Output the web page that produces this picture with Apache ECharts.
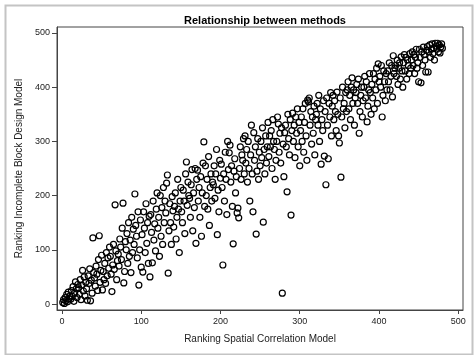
<!DOCTYPE html>
<html>
<head>
<meta charset="utf-8">
<script src="https://cdn.jsdelivr.net/npm/echarts@6/dist/echarts.min.js"></script>
<style>html,body{margin:0;padding:0;background:#fff}#c{width:474px;height:355px}</style>
</head>
<body>
<div id="c"></div>
<script>
const chartTitle = 'Relationship between methods';
const xAxisName = 'Ranking Spatial Correlation Model';
const yAxisName = 'Ranking Incomplete Block Design Model';
const xTicks = [0, 100, 200, 300, 400, 500];
const yTicks = [0, 100, 200, 300, 400, 500];
// [spatial correlation rank, incomplete block design rank]
const rankPairs = [
[1,3],[2,8],[3,1],[4,12],[5,6],[6,18],[7,4],[8,22],[9,10],[10,15],
[11,9],[12,25],[13,14],[14,32],[15,5],[16,20],[17,41],[18,28],[19,12],[20,36],
[21,30],[22,18],[23,45],[24,8],[25,35],[26,62],[27,24],[28,50],[29,15],[30,40],
[31,28],[32,7],[33,52],[34,38],[35,65],[36,6],[37,44],[38,20],[39,122],[40,58],
[41,48],[42,33],[43,70],[44,55],[45,25],[46,82],[47,126],[48,40],[49,62],[50,90],
[51,26],[52,60],[53,45],[54,75],[55,38],[56,95],[57,52],[58,85],[59,66],[60,105],
[61,88],[62,55],[63,23],[64,72],[65,110],[66,64],[67,183],[68,98],[69,45],[70,80],
[71,92],[72,70],[73,120],[74,105],[75,82],[76,140],[77,186],[78,39],[79,60],[80,115],
[81,100],[82,130],[83,75],[84,150],[85,88],[86,118],[87,58],[88,160],[89,95],[90,138],
[91,110],[92,203],[93,145],[94,125],[95,85],[96,170],[97,35],[98,100],[99,155],[100,68],
[101,128],[102,59],[103,170],[104,140],[105,95],[106,185],[107,112],[108,150],[109,75],[110,162],
[111,50],[112,165],[113,132],[114,76],[115,190],[116,118],[117,148],[118,98],[119,175],[120,205],
[121,140],[122,160],[123,88],[124,200],[125,125],[126,178],[127,110],[128,215],[129,150],[130,190],
[131,168],[132,223],[133,238],[134,57],[135,135],[136,185],[137,150],[138,110],[139,198],[140,172],
[141,142],[142,180],[143,205],[144,120],[145,160],[146,230],[147,175],[148,95],[149,190],[150,215],
[151,170],[152,150],[153,210],[154,190],[155,130],[156,240],[157,262],[158,182],[159,225],[160,200],
[161,195],[162,160],[163,220],[164,248],[165,135],[166,205],[167,178],[168,250],[169,112],[170,230],
[171,247],[172,190],[173,215],[174,160],[175,235],[176,125],[177,205],[178,260],[179,299],[180,180],
[181,255],[182,200],[183,230],[184,175],[185,272],[186,145],[187,215],[188,240],[189,190],[190,225],
[191,220],[192,255],[193,195],[194,240],[195,285],[196,128],[197,210],[198,170],[199,265],[200,232],
[201,258],[202,215],[203,72],[204,240],[205,190],[206,280],[207,230],[208,165],[209,300],[210,248],
[211,279],[212,293],[213,225],[214,255],[215,180],[216,111],[217,245],[218,268],[219,205],[220,235],
[221,168],[222,177],[223,159],[224,250],[225,290],[226,230],[227,275],[228,265],[229,305],[230,240],
[231,310],[232,260],[233,285],[234,225],[235,300],[236,250],[237,190],[238,275],[239,330],[240,240],
[241,170],[242,316],[243,265],[244,290],[245,129],[246,245],[247,305],[248,230],[249,280],[250,255],
[251,300],[252,270],[253,325],[254,151],[255,285],[256,240],[257,310],[258,260],[259,290],[260,335],
[261,272],[262,310],[263,290],[264,320],[265,250],[266,340],[267,300],[268,285],[269,230],[270,265],
[271,300],[272,345],[273,332],[274,280],[275,315],[276,260],[277,325],[278,20],[279,295],[280,235],
[281,316],[282,330],[283,290],[284,207],[285,350],[286,305],[287,275],[288,340],[289,164],[290,320],
[291,352],[292,300],[293,330],[294,270],[295,345],[296,315],[297,360],[298,290],[299,335],[300,255],
[301,320],[302,345],[303,300],[304,360],[305,280],[306,335],[307,370],[308,310],[309,265],[310,376],
[311,373],[312,380],[313,330],[314,355],[315,295],[316,345],[317,315],[318,365],[319,275],[320,340],
[321,350],[322,370],[323,330],[324,385],[325,300],[326,360],[327,258],[328,340],[329,320],[330,375],
[331,273],[332,355],[333,220],[334,380],[335,330],[336,268],[337,370],[338,345],[339,390],[340,310],
[341,365],[342,385],[343,340],[344,375],[345,355],[346,320],[347,391],[348,350],[349,310],[350,297],
[351,380],[352,234],[353,345],[354,400],[355,360],[356,370],[357,325],[358,390],[359,355],[360,395],
[361,410],[362,360],[363,385],[364,340],[365,400],[366,417],[367,370],[368,395],[369,330],[370,380],
[371,390],[372,405],[373,370],[374,415],[375,315],[376,355],[377,385],[378,400],[379,345],[380,375],
[381,400],[382,420],[383,380],[384,410],[385,336],[386,365],[387,395],[388,425],[389,390],[390,350],
[391,405],[392,380],[393,425],[394,360],[395,415],[396,395],[397,435],[398,370],[399,443],[400,410],
[401,420],[402,400],[403,440],[404,345],[405,385],[406,430],[407,410],[408,375],[409,425],[410,395],
[411,430],[412,410],[413,445],[414,395],[415,420],[416,440],[417,382],[418,458],[419,425],[420,435],
[421,440],[422,420],[423,450],[424,405],[425,435],[426,445],[427,415],[428,456],[429,430],[430,400],
[431,445],[432,460],[433,430],[434,455],[435,415],[436,450],[437,440],[438,425],[439,462],[440,435],
[441,450],[442,465],[443,440],[444,460],[445,425],[446,455],[447,470],[448,435],[449,445],[450,410],
[451,470],[452,455],[453,408],[454,465],[455,440],[456,474],[457,460],[458,450],[459,428],[460,468],
[461,475],[462,428],[463,465],[464,478],[465,455],[466,470],[467,480],[468,462],[469,472],[470,450],
[471,481],[472,476],[473,470],[474,481],[475,465],[476,478],[477,463],[478,474],[479,480],[480,472]
];

const chart = echarts.init(document.getElementById('c'), null, {renderer: 'canvas'});
const font = 'Liberation Sans, Arial, sans-serif';
chart.setOption({
  animation: false,
  backgroundColor: '#fff',
  graphic: [{
    type: 'rect', left: 3, top: 3, z: -1,
    shape: {width: 467, height: 349},
    style: {fill: 'none', stroke: '#c4c4c4', lineWidth: 2}
  }],
  title: {
    text: chartTitle,
    left: 260, top: 10, textAlign: 'center',
    textStyle: {fontFamily: font, fontSize: 11, fontWeight: 'bold', color: '#000'}
  },
  grid: {left: 57, right: 11, top: 27, bottom: 45, show: true, borderColor: '#444', borderWidth: 1},
  xAxis: {
    type: 'value', min: -6.3, max: 506,
    name: xAxisName, nameLocation: 'middle', nameGap: 24,
    nameTextStyle: {fontFamily: font, fontSize: 10, color: '#222'},
    splitLine: {show: false},
    axisLine: {show: true, onZero: false, lineStyle: {color: '#444'}},
    axisTick: {show: true, length: 4, customValues: xTicks, lineStyle: {color: '#444'}},
    axisLabel: {customValues: xTicks, fontFamily: font, fontSize: 9, color: '#222', margin: 7}
  },
  yAxis: {
    type: 'value', min: -11, max: 511,
    name: yAxisName, nameLocation: 'middle', nameGap: 33,
    nameTextStyle: {fontFamily: font, fontSize: 10, color: '#222'},
    splitLine: {show: false},
    axisLine: {show: true, onZero: false, lineStyle: {color: '#444'}},
    axisTick: {show: true, length: 5, customValues: yTicks, lineStyle: {color: '#444'}},
    axisLabel: {customValues: yTicks, fontFamily: font, fontSize: 9, color: '#222', margin: 7}
  },
  series: [{
    type: 'scatter',
    data: rankPairs,
    symbol: 'circle',
    symbolSize: 6,
    itemStyle: {color: 'rgba(255,255,255,0)', borderColor: '#000', borderWidth: 1.2, opacity: 1}
  }]
});
</script>
</body>
</html>
